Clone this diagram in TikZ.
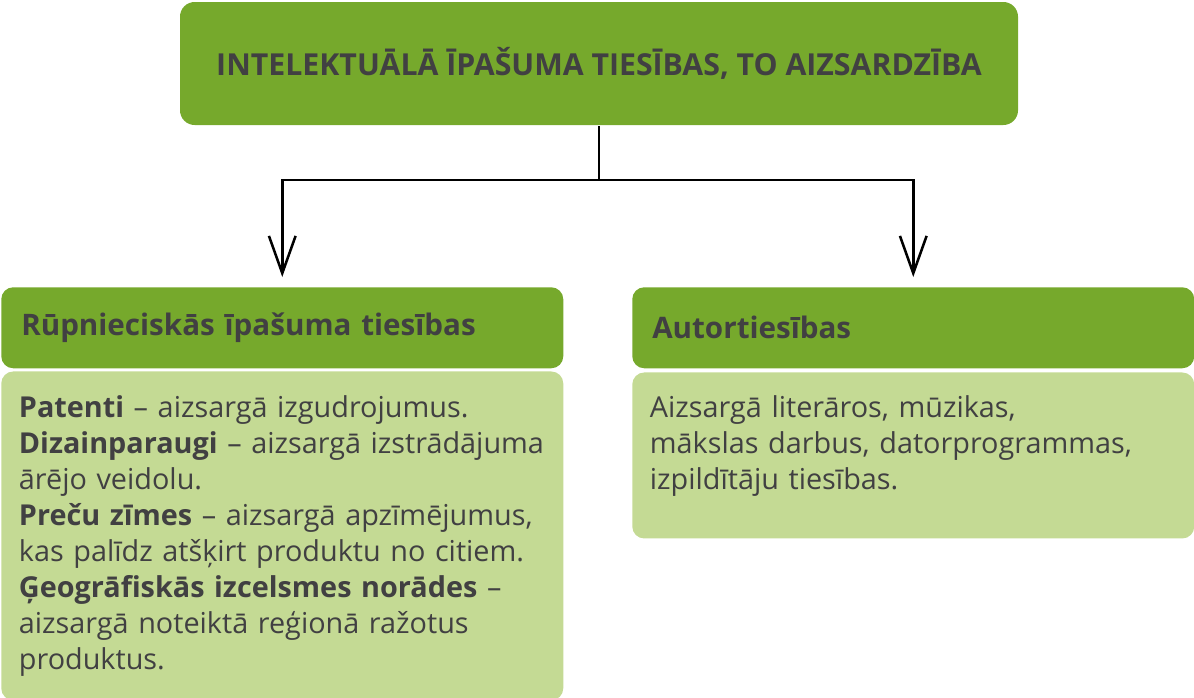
\documentclass[tikz,border=0pt]{standalone}
\usepackage{fontspec}
\setmainfont{Open Sans}
\usetikzlibrary{positioning,arrows.meta}
\definecolor{leaf}{HTML}{76A92C}
\definecolor{pale}{HTML}{C4DA94}
\definecolor{ink}{HTML}{414042}

\begin{document}
\begin{tikzpicture}[x=0.75pt ,y=-0.75pt ,line width=1.9pt ,
tip/.style ={-{Straight Barb[length=28pt,width=20pt,line width=1.9pt]}},
top/.style ={rectangle ,rounded corners=11pt ,fill=leaf ,text=ink ,
 font=\bfseries\fontsize{22.7}{27}\selectfont ,minimum width=628.5pt ,minimum height=92.25pt},
head/.style ={rectangle ,rounded corners=9pt ,fill=leaf ,text=ink ,align=left ,
 font=\bfseries\fontsize{22.2}{27}\selectfont ,text width=391.5pt ,inner xsep=15pt ,
 inner ysep=0pt ,minimum height=60.75pt ,anchor=north west},
body/.style ={rectangle ,rounded corners=9pt ,fill=pale ,text=ink ,align=left ,
 font=\fontsize{21.6}{27}\selectfont ,text width=395pt ,inner xsep=13.25pt ,inner ysep=18pt}]
\useasboundingbox (0,0) rectangle (1194,697);
\node[top] (T) at (599,63.5) {INTELEKTUĀLĀ ĪPAŠUMA TIESĪBAS, TO AIZSARDZĪBA};
\node[head] (R) at (0,286) {Rūpnieciskās īpašuma tiesības};
\node[head] (A) at (631,286) {Autortiesības};
\node[body] (RB) [below=0.5pt of R.south west ,anchor=north west]
 {\textbf{Patenti} – aizsargā izgudrojumus.\\
 \textbf{Dizainparaugi} – aizsargā izstrādājuma\\
 ārējo veidolu.\\
 \textbf{Preču zīmes} – aizsargā apzīmējumus,\\
 kas palīdz atšķirt produktu no citiem.\\
 \textbf{Ģeogrāfiskās izcelsmes norādes} –\\
 aizsargā noteiktā reģionā ražotus\\
 produktus.};
\node[body ,text height=16pt ,text depth=72.5pt] (AB) [below=1.25pt of A.south west ,anchor=north west]
 {Aizsargā literāros, mūzikas,\\
 mākslas darbus, datorprogrammas,\\
 izpildītāju tiesības.};
\coordinate (split) at (T.south |- 0,180);
\draw (T.south) -- (split);
\draw[tip ,shorten >=6.75pt] (split) -| (R.north);
\draw[tip ,shorten >=6.75pt] (split) -| (A.north);
\end{tikzpicture}
\end{document}
